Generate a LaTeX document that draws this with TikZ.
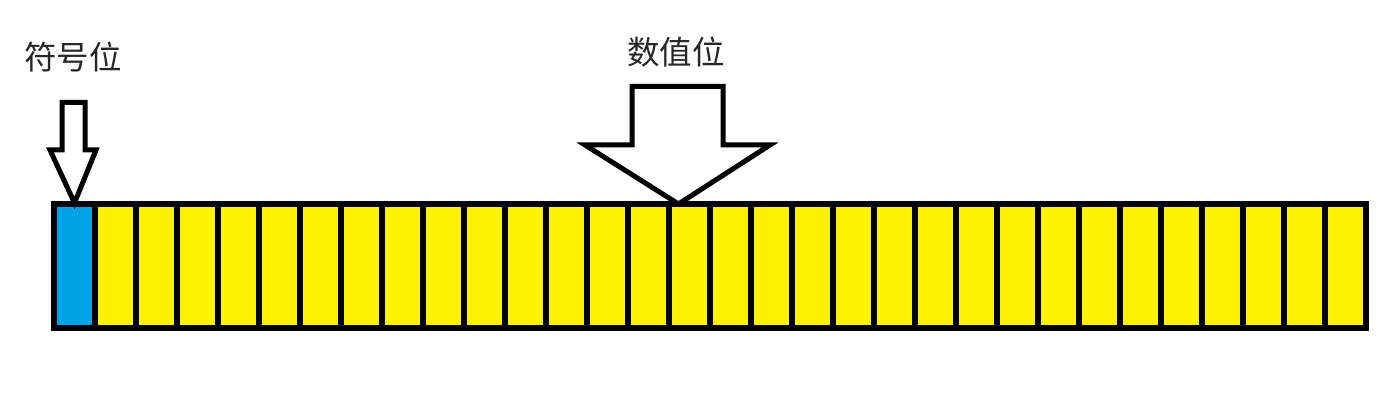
\documentclass[tikz,border=0pt]{standalone}
\usepackage{fontspec}
\newfontfamily\cjk{Noto Sans CJK SC}
\definecolor{signblue}{HTML}{00A2E8}
\definecolor{valyellow}{HTML}{FFF200}
\begin{document}
\begin{tikzpicture}[x=1pt,y=-1pt,
  cell/.style={draw=black,line width=6pt,minimum width=41pt,minimum height=124pt,inner sep=0pt,outer sep=0pt,anchor=north west},
  outline/.style={draw=black,line width=5pt,fill=white,line join=miter},
  lbl/.style={font=\cjk\fontsize{32.5}{32.5}\selectfont,inner sep=0pt,text=black!85}]
\useasboundingbox (0,0) rectangle (1395,411);
% cells
\node[cell,fill=signblue] (c0) at (54,204) {};
\foreach \i in {1,...,31}{
  \node[cell,fill=valyellow] (c\i) at ({54+41*\i},204) {};
}
% sign arrow
\coordinate (st) at ([yshift=1pt]c0.north);
\draw[outline] (62,102.5) -- (85,102.5) -- (85,150) -- (96,150) -- (st) -- (50,150) -- (62,150) -- cycle;
% value arrow
\coordinate (vt) at ([xshift=-11pt]c15.north);
\draw[outline] (632,86.5) -- (723,86.5) -- (723,145) -- (770,145) -- (vt) -- (585,145) -- (632,145) -- cycle;
% labels
\node[lbl] (sign) at (73,57) {符号位};
\node[lbl] (value) at (676,52) {数值位};
\end{tikzpicture}
\end{document}
